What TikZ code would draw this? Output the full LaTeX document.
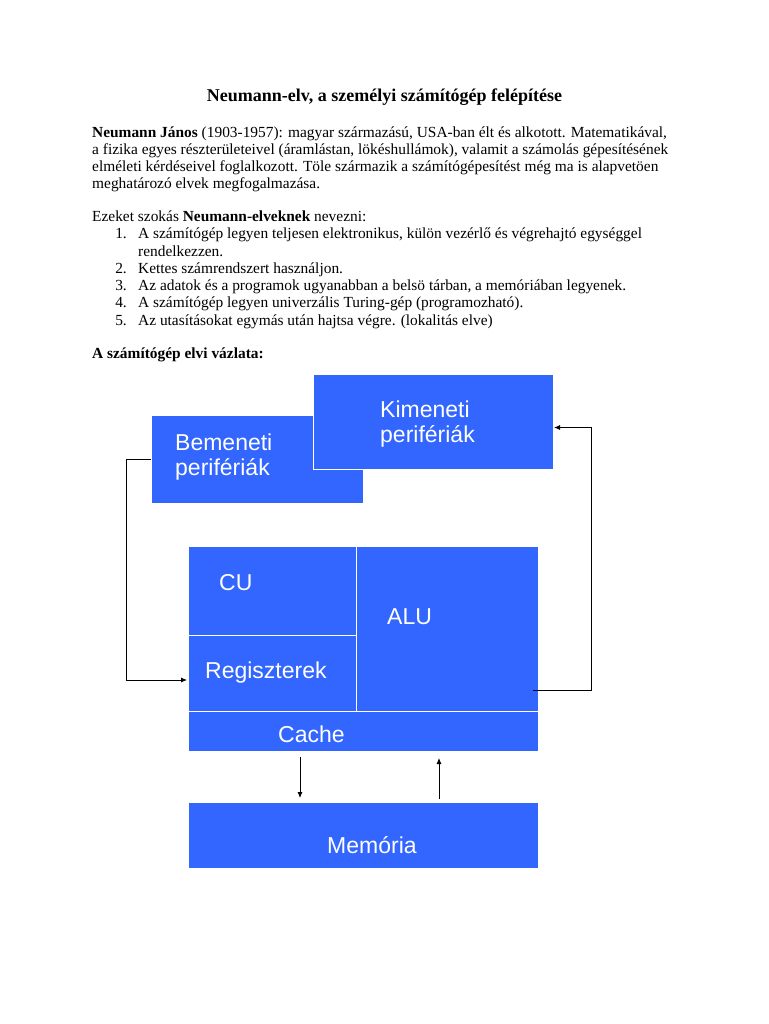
\documentclass[tikz,border=0pt]{standalone}
\usepackage{fontspec}
\setmainfont{Liberation Serif}
\newfontfamily\arialf{Liberation Sans}
\usetikzlibrary{arrows.meta,calc}
\definecolor{blueF}{RGB}{51,102,255}
\begin{document}
\begin{tikzpicture}[x=1pt,y=-1pt,
  box/.style={fill=blueF, draw=white, line width=0.8pt, inner sep=0pt, outer sep=0pt, anchor=north west},
  lbl/.style={text=white, font=\arialf\fontsize{23}{25.5}\selectfont, anchor=west, inner sep=0pt, align=left},
  body/.style={font=\fontsize{15.4}{17}\selectfont, anchor=base west, inner sep=0pt},
  num/.style={font=\fontsize{15.4}{17}\selectfont, anchor=base east, inner sep=0pt},
  arr/.style={-{Latex[length=6pt,width=5pt]}, line width=0.8pt, shorten >=1pt}]
\useasboundingbox[fill=white] (0,0) rectangle (768,1024);

% text
\node[font=\bfseries\fontsize{18}{20}\selectfont, anchor=base, inner sep=0pt] (title) at (384.5,102) {Neumann-elv, a személyi számítógép felépítése};
\node[body] (p1) at (92,138) {\textbf{Neumann János} (1903-1957): magyar származású, USA-ban élt és alkotott. Matematikával,};
\node[body] (p2) at (92,155) {a fizika egyes részterületeivel (áramlástan, lökéshullámok), valamit a számolás gépesítésének};
\node[body] (p3) at (92,172) {elméleti kérdéseivel foglalkozott. Töle származik a számítógépesítést még ma is alapvetöen};
\node[body] (p4) at (92,189) {meghatározó elvek megfogalmazása.};
\node[body] (e0) at (92,222) {Ezeket szokás \textbf{Neumann-elveknek} nevezni:};
\node[num] (n1) at (127,239) {1.};
\node[body] (i1) at (138,239) {A számítógép legyen teljesen elektronikus, külön vezérlő és végrehajtó egységgel};
\node[body] (i1b) at (138,256) {rendelkezzen.};
\node[num] (n2) at (127,273) {2.};
\node[body] (i2) at (138,273) {Kettes számrendszert használjon.};
\node[num] (n3) at (127,290) {3.};
\node[body] (i3) at (138,290) {Az adatok és a programok ugyanabban a belsö tárban, a memóriában legyenek.};
\node[num] (n4) at (127,307) {4.};
\node[body] (i4) at (138,307) {A számítógép legyen univerzális Turing-gép (programozható).};
\node[num] (n5) at (127,325) {5.};
\node[body] (i5) at (138,325) {Az utasításokat egymás után hajtsa végre. (lokalitás elve)};
\node[body, font=\bfseries\fontsize{15.4}{17}\selectfont] (sk) at (92,358) {A számítógép elvi vázlata:};

% boxes
\node[box, minimum width=212pt, minimum height=88pt] (bem) at (151,415) {};
\node[box, minimum width=240pt, minimum height=95pt] (kim) at (313,374) {};
\node[box, minimum width=168pt, minimum height=89pt] (cu) at (188,546) {};
\node[box, minimum width=168pt, minimum height=76pt] (reg) at (188,635) {};
\node[box, minimum width=182pt, minimum height=165pt] (alu) at (356,546) {};
\node[box, minimum width=350pt, minimum height=40pt] (cache) at (188,711) {};
\node[box, minimum width=350pt, minimum height=66pt] (mem) at (188,802) {};

% labels
\node[lbl] (kimT) at (380,424) {Kimeneti\\perifériák};
\node[lbl] (bemT) at (175,457) {Bemeneti\\perifériák};
\node[lbl] (cuT) at (219,583) {CU};
\node[lbl] (aluT) at (387,617) {ALU};
\node[lbl] (regT) at (205,673) {Regiszterek};
\node[lbl] (cacheT) at (278,734) {Cache};
\node[lbl] (memT) at (327,845) {Memória};

% connectors
\draw[arr] (bem.west) -- ++(-25,0) |- ([yshift=-7pt]reg.west);
\draw[arr] ($(alu.south east)+(-5,-21)$) -- ++(58,0) |- ([yshift=-6pt]kim.east);
\draw[arr] ([xshift=-63pt,yshift=-6pt]cache.south) -- ([xshift=-63pt,yshift=3pt]mem.north);
\draw[arr] ([xshift=76pt,yshift=3pt]mem.north) -- ([xshift=76pt,yshift=-6pt]cache.south);
\end{tikzpicture}
\end{document}
